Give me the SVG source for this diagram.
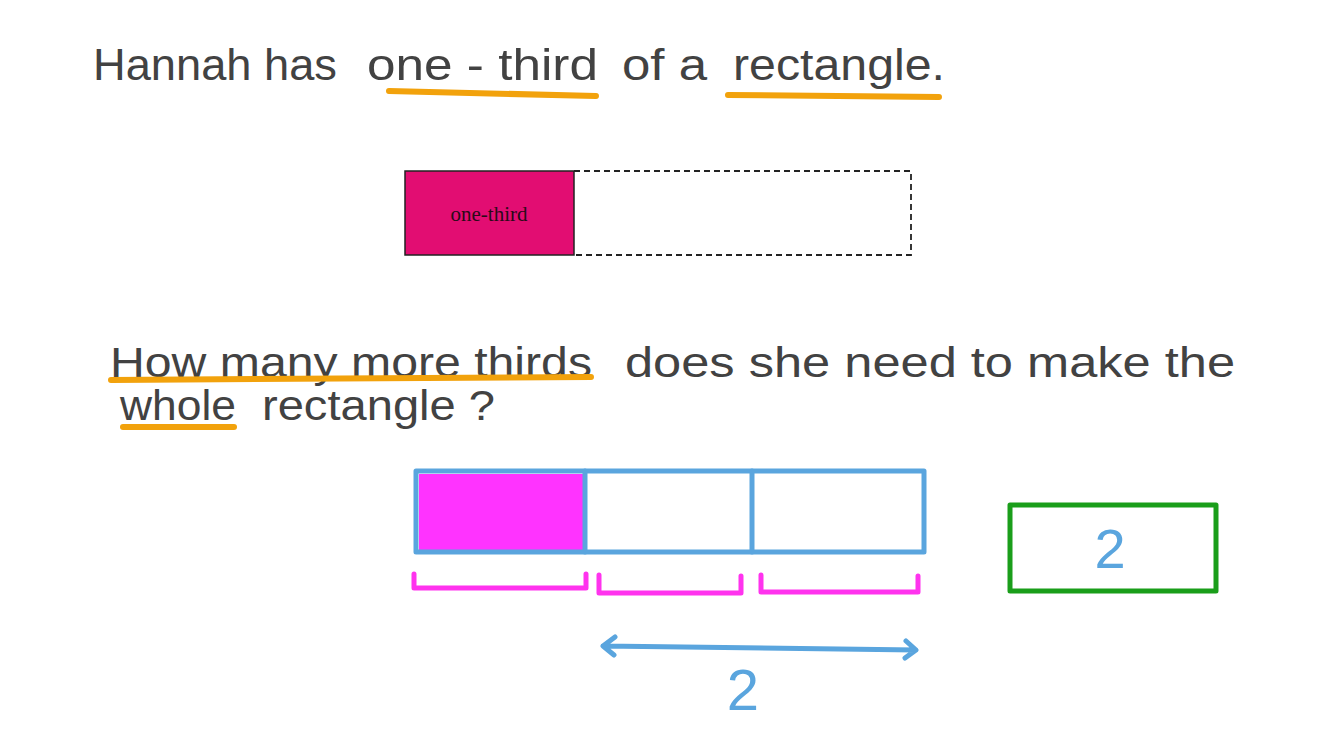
<svg xmlns="http://www.w3.org/2000/svg" width="1344" height="756" viewBox="0 0 1344 756">
<style>
.hw{font-family:"Liberation Sans","DejaVu Sans",sans-serif;fill:#424242}
.ul{fill:none;stroke:#f2a20c;stroke-width:6;stroke-linecap:round}
.blue{fill:none;stroke:#5aa5de;stroke-width:5;stroke-linecap:round;stroke-linejoin:round}
.br{fill:none;stroke:#ff33ee;stroke-width:5;stroke-linecap:round;stroke-linejoin:round}
.num{font-family:"Liberation Sans","DejaVu Sans",sans-serif;fill:#5aa5de;text-anchor:middle}
</style>
<rect width="1344" height="756" fill="#ffffff"/>
<g id="title">
<text class="hw" x="93" y="80" font-size="45" textLength="244" lengthAdjust="spacingAndGlyphs">Hannah has</text>
<text class="hw" x="367" y="80" font-size="45" textLength="231" lengthAdjust="spacingAndGlyphs">one - third</text>
<text class="hw" x="622" y="80" font-size="45" textLength="85" lengthAdjust="spacingAndGlyphs">of a</text>
<text class="hw" x="733" y="80" font-size="45" textLength="212" lengthAdjust="spacingAndGlyphs">rectangle.</text>
<path class="ul" d="M389 91 L596 96"/>
<path class="ul" d="M728 95 L939 97"/>
</g>
<g id="one-third-box">
<rect x="405" y="171" width="169" height="84" fill="#e20d72" stroke="#222" stroke-width="1.5"/>
<text x="489" y="221" font-family="Liberation Serif,serif" font-size="21" fill="#2a0a18" text-anchor="middle">one-third</text>
</g>
<g id="dashed-whole">
<path d="M574 171 H911 V255 H574" fill="none" stroke="#222" stroke-width="1.8" stroke-dasharray="6,4"/>
</g>
<g id="question">
<text class="hw" x="110" y="377" font-size="42" textLength="482" lengthAdjust="spacingAndGlyphs">How many more thirds</text>
<text class="hw" x="625" y="377" font-size="42" textLength="610" lengthAdjust="spacingAndGlyphs">does she need to make the</text>
<text class="hw" x="120" y="420" font-size="42" textLength="116" lengthAdjust="spacingAndGlyphs">whole</text>
<text class="hw" x="262" y="420" font-size="42" textLength="233" lengthAdjust="spacingAndGlyphs">rectangle ?</text>
<path class="ul" d="M111 380 L591 377"/>
<path class="ul" d="M123 427 L234 427"/>
</g>
<g id="bar">
<rect x="419" y="474" width="164" height="77" fill="#ff33ff"/>
<rect class="blue" x="416" y="471" width="508" height="81"/>
<path class="blue" d="M585 471 V552 M752 471 V552"/>
</g>
<g id="brackets">
<path class="br" d="M414 574 V588 H586 V574"/>
<path class="br" d="M599 575 V593 H741 V576"/>
<path class="br" d="M761 575 V592 H918 V576"/>
</g>
<g id="connectors">
<path class="blue" d="M603 646 L916 650 M615 637 L603 646 L614 655 M906 641 L916 650 L905 658"/>
</g>
<g id="arrow-label">
<text class="num" x="743" y="710" font-size="58">2</text>
</g>
<g id="answer">
<rect x="1010" y="505" width="206" height="86" fill="none" stroke="#1a9e1a" stroke-width="5" stroke-linejoin="round"/>
<text class="num" x="1110" y="568" font-size="56">2</text>
</g>
</svg>
